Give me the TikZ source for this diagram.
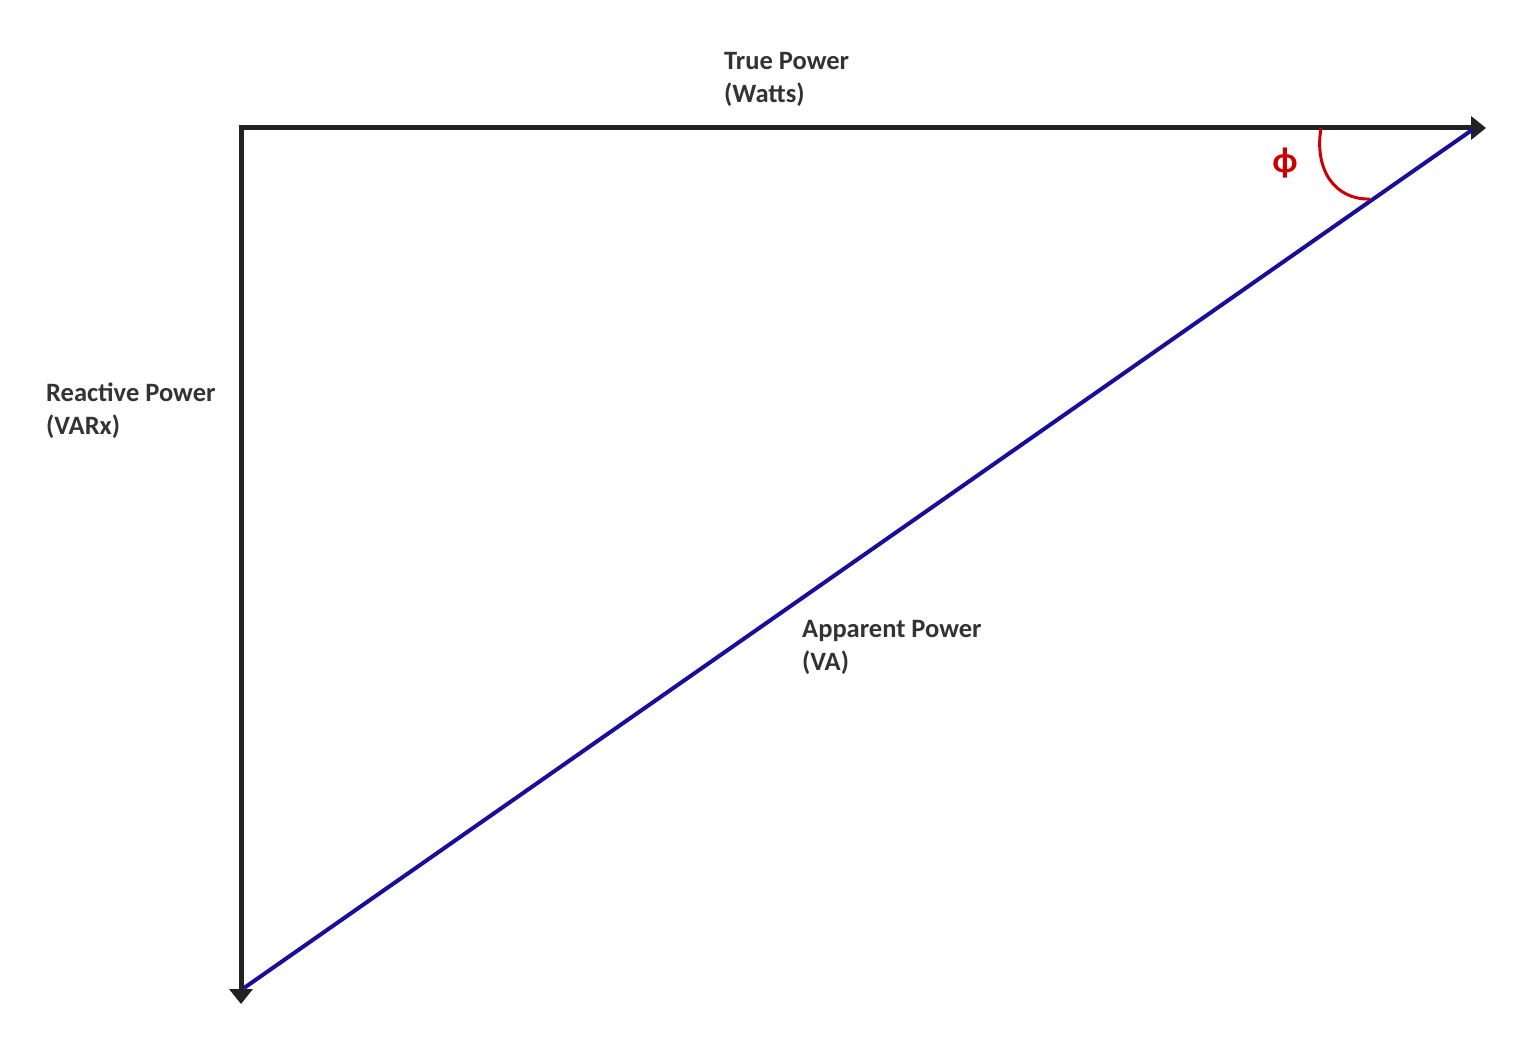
\documentclass[tikz,border=0pt]{standalone}
\usepackage{fontspec}
\setmainfont{Carlito}
\usetikzlibrary{arrows.meta}
\definecolor{axisgray}{RGB}{34,34,34}
\definecolor{vablue}{RGB}{26,13,153}
\definecolor{phired}{RGB}{204,0,0}
\definecolor{txtgray}{RGB}{51,51,51}
\tikzset{
  axis/.style={draw=axisgray, line width=5pt, -{Triangle[length=15pt,width=23pt]}},
  hyp/.style={draw=vablue, line width=4pt},
  anglearc/.style={draw=phired, line width=3pt},
  lbl/.style={text=txtgray, font=\bfseries\fontsize{26.5}{33}\selectfont, align=left, anchor=base west, inner sep=0pt},
}
\begin{document}
\begin{tikzpicture}[x=1pt,y=-1pt]
\useasboundingbox (0,0) rectangle (1536,1054);
\coordinate (O) at (241,126);
\coordinate (O2) at (239,128);
\coordinate (E) at (1486,128);
\coordinate (S) at (241,1004);
\coordinate (B1) at (244,988);
\coordinate (B2) at (1472,130);
\coordinate (A1) at (1321,128);
\coordinate (A2) at (1370,199);
\draw[axis] (O2) -- (E);
\draw[axis] (O) -- (S);
\draw[hyp] (B1) -- (B2);
\draw[anglearc] (A1) .. controls (1314,170) and (1335,200) .. (A2);
\node[lbl] (tp) at (724,103) {True Power\\(Watts)};
\node[lbl] (rp) at (46,434) {Reactive Power\\(VARx)};
\node[lbl] (ap) at (802,670) {Apparent Power\\(VA)};
\node[text=phired, font=\bfseries\fontsize{36}{40}\selectfont, inner sep=0pt] (phi) at (1285,163) {ϕ};
\end{tikzpicture}
\end{document}
